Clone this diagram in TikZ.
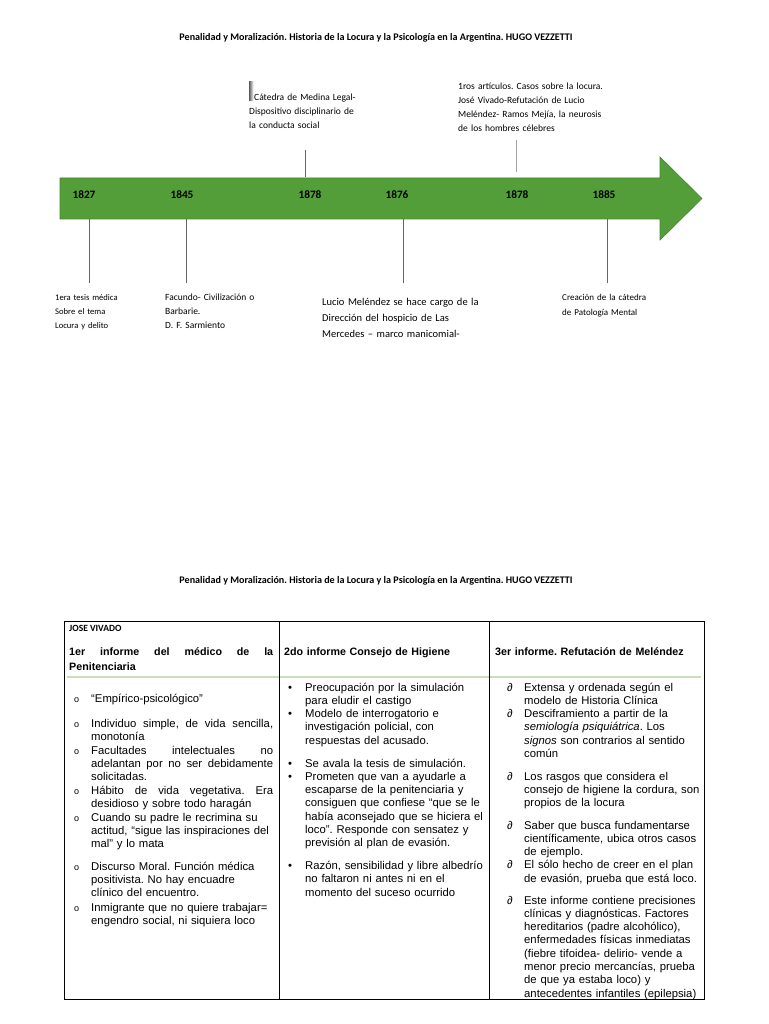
\documentclass[tikz,border=0pt]{standalone}
\usepackage{fontspec}
\setmainfont{Carlito}
\newfontfamily\arialf{Liberation Sans}
\usepackage{tikz}
\usetikzlibrary{positioning}

\definecolor{arrowgreen}{RGB}{84,158,58}
\definecolor{arrowedge}{RGB}{70,132,50}
\definecolor{hdrline}{RGB}{200,222,190}

\newcommand\jline[1]{\leavevmode\hbox to \linewidth{\spaceskip=0pt\xspaceskip=0pt\relax #1}}
\newcommand\itm[1]{\leavevmode\llap{\makebox[17pt][l]{#1}}}
\newcommand\obul{{\fontsize{9}{9}\selectfont o}}
\frenchspacing

\tikzset{
  yr/.style={font=\bfseries\fontsize{11.3}{12}\selectfont, anchor=base, inner sep=0pt},
  lbl/.style={font=\fontsize{9.5}{14}\selectfont, align=left, text width=#1,
    anchor=base west, inner sep=0pt},
  cell/.style={font=\arialf\fontsize{11.3}{13.3}\selectfont, align=left, text width=#1,
    anchor=base west, inner sep=0pt},
  hdr/.style={font=\arialf\bfseries\fontsize{10.7}{15}\selectfont, align=left, text width=#1,
    anchor=base west, inner sep=0pt},
  ttl/.style={font=\bfseries\fontsize{10.1}{11}\selectfont, anchor=base, inner sep=0pt},
  tick/.style={draw=black!60, line width=0.8pt},
}

\begin{document}
\begin{tikzpicture}[x=1pt,y=-1pt]
  \useasboundingbox (0,0) rectangle (768,1024);
  \fill[white] (0,0) rectangle (768,1024);

  % titles
  \node[ttl] (ttl1) at (376,41) {Penalidad y Moralización. Historia de la Locura y la Psicología en la Argentina. HUGO VEZZETTI};
  \node[ttl] (ttl2) at (376,583) {Penalidad y Moralización. Historia de la Locura y la Psicología en la Argentina. HUGO VEZZETTI};

  % timeline arrow
  \filldraw[fill=arrowgreen, draw=arrowedge, line width=0.6pt]
    (60,178) -- (660,178) -- (660,157) -- (702,198.5) -- (660,240) -- (660,219) -- (60,219) -- cycle;

  \node[yr] (y1) at (84,199) {1827};
  \node[yr] (y2) at (182,199) {1845};
  \node[yr] (y3) at (310,199) {1878};
  \node[yr] (y4) at (397,199) {1876};
  \node[yr] (y5) at (517,199) {1878};
  \node[yr] (y6) at (604,199) {1885};

  % upper labels
  \shade[left color=black!65, right color=white] (249,82) rectangle (253.5,101);
  \node[lbl=130pt] (catedra) at (249,100.5) {\hspace*{5pt}Cátedra de Medina Legal-\\ Dispositivo disciplinario de\\ la conducta social};
  \node[lbl=170pt] (articulos) at (458,89.5) {1ros artículos. Casos sobre la locura.\\ José Vivado-Refutación de Lucio\\ Meléndez- Ramos Mejía, la neurosis\\ de los hombres célebres};

  % lower labels
  \node[lbl=80pt, font=\fontsize{8.6}{14}\selectfont] (tesis) at (55,300.5) {1era tesis médica\\ Sobre el tema\\ Locura y delito};
  \node[lbl=110pt] (facundo) at (165,300.5) {Facundo- Civilización o\\ Barbarie.\\ D. F. Sarmiento};
  \node[lbl=180pt, font=\fontsize{10.5}{16}\selectfont] (lucio) at (322,305.5) {Lucio Meléndez se hace cargo de la\\ Dirección del hospicio de Las\\ Mercedes – marco manicomial-};
  \node[lbl=110pt, font=\fontsize{9}{15}\selectfont] (creacion) at (562,300.5) {Creación de la cátedra\\ de Patología Mental};

  % ticks
  \coordinate (u1a) at (305,150); \coordinate (u1b) at (305,177);
  \coordinate (u2a) at (516,140); \coordinate (u2b) at (516,172);
  \draw[tick] (u1a) -- (u1b);
  \draw[tick, draw=black!35] (u2a) -- (u2b);
  \foreach \x [count=\i] in {89,186,403,607} {
    \coordinate (d\i a) at (\x,219);
    \coordinate (d\i b) at (\x,283);
    \draw[tick] (d\i a) -- (d\i b);
  }

  % table
  \draw[hdrline, line width=2pt] (67,677) -- (701,677);
  \draw[line width=1pt] (64,621) rectangle (704,999);
  \draw[line width=0.8pt] (279,621) -- (279,999);
  \draw[line width=0.8pt] (489,621) -- (489,999);

  \node[anchor=base west, inner sep=0pt, font=\bfseries\fontsize{9.5}{10}\selectfont] (vivado) at (69,631) {JOSE VIVADO};
  \node[hdr=204pt] (h1) at (69,655) {\jline{1er informe del médico de la}\\ Penitenciaria};
  \node[hdr=204pt] (h2) at (284,655) {2do informe Consejo de Higiene};
  \node[hdr=210pt] (h3) at (495,655) {3er informe. Refutación de Meléndez};

  % column 1
  \node[cell=182pt] (c1a) at (91,702) {\itm{\obul}“Empírico-psicológico”};
  \node[cell=182pt] (c1b) at (91,727) {\itm{\obul}\jline{Individuo simple, de vida sencilla,}\\ monotonía};
  \node[cell=182pt] (c1c) at (91,754) {\itm{\obul}\jline{Facultades intelectuales no}\\ \jline{adelantan por no ser debidamente}\\ solicitadas.};
  \node[cell=182pt] (c1d) at (91,794) {\itm{\obul}\jline{Hábito de vida vegetativa. Era}\\ desidioso y sobre todo haragán};
  \node[cell=190pt] (c1e) at (91,821) {\itm{\obul}Cuando su padre le recrimina su\\ actitud, “sigue las inspiraciones del\\ mal” y lo mata};
  \node[cell=190pt] (c1f) at (91,870) {\itm{\obul}Discurso Moral. Función médica\\ positivista. No hay encuadre\\ clínico del encuentro.};
  \node[cell=190pt] (c1g) at (91,911) {\itm{\obul}Inmigrante que no quiere trabajar=\\ engendro social, ni siquiera loco};

  % column 2
  \node[cell=190pt] (c2a) at (305,691) {\itm{•}Preocupación por la simulación\\ para eludir el castigo};
  \node[cell=190pt] (c2b) at (305,717.6) {\itm{•}Modelo de interrogatorio e\\ investigación policial, con\\ respuestas del acusado.};
  \node[cell=190pt] (c2c) at (305,767) {\itm{•}Se avala la tesis de simulación.};
  \node[cell=190pt] (c2d) at (305,780.3) {\itm{•}Prometen que van a ayudarle a\\ escaparse de la penitenciaria y\\ consiguen que confiese “que se le\\ había aconsejado que se hiciera el\\ loco”. Responde con sensatez y\\ previsión al plan de evasión.};
  \node[cell=190pt] (c2e) at (305,869.5) {\itm{•}Razón, sensibilidad y libre albedrío\\ no faltaron ni antes ni en el\\ momento del suceso ocurrido};

  % column 3
  \node[cell=190pt] (c3a) at (524,691) {\itm{∂}Extensa y ordenada según el\\ modelo de Historia Clínica};
  \node[cell=190pt] (c3b) at (524,717.6) {\itm{∂}Desciframiento a partir de la\\ \textit{semiología psiquiátrica}. Los\\ \textit{signos} son contrarios al sentido\\ común};
  \node[cell=190pt] (c3c) at (524,780) {\itm{∂}Los rasgos que considera el\\ consejo de higiene la cordura, son\\ propios de la locura};
  \node[cell=190pt] (c3d) at (524,829) {\itm{∂}Saber que busca fundamentarse\\ científicamente, ubica otros casos\\ de ejemplo.};
  \node[cell=190pt] (c3e) at (524,868.9) {\itm{∂}El sólo hecho de creer en el plan\\ de evasión, prueba que está loco.};
  \node[cell=190pt] (c3f) at (524,904) {\itm{∂}Este informe contiene precisiones\\ clínicas y diagnósticas. Factores\\ hereditarios (padre alcohólico),\\ enfermedades físicas inmediatas\\ (fiebre tifoidea- delirio- vende a\\ menor precio mercancías, prueba\\ de que ya estaba loco) y\\ antecedentes infantiles (epilepsia)};
\end{tikzpicture}
\end{document}
